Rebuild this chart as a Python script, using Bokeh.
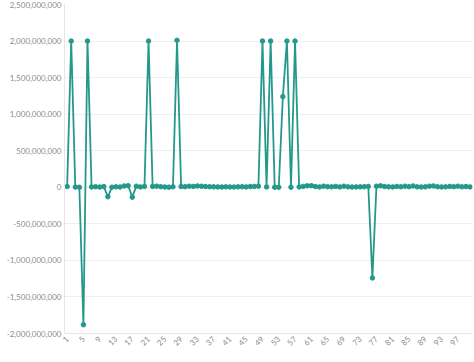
from bokeh.plotting import figure
from bokeh.models import Range1d, FixedTicker, NumeralTickFormatter, ColumnDataSource
from bokeh.embed import file_html
from bokeh.resources import INLINE

x_values = list(range(1, 101))
y_values = [
    10_000_000, 2_000_000_000, 3_000_000, 0, -1_880_000_000,
    2_000_000_000, 5_000_000, 8_000_000, 3_000_000, 10_000_000,
    -130_000_000, 2_000_000, 6_000_000, 4_000_000, 18_000_000,
    22_000_000, -135_000_000, 15_000_000, 5_000_000, 12_000_000,
    2_000_000_000, 12_000_000, 15_000_000, 8_000_000, 4_000_000,
    2_000_000, 6_000_000, 2_010_000_000, 10_000_000, 8_000_000,
    15_000_000, 12_000_000, 18_000_000, 14_000_000, 10_000_000,
    8_000_000, 6_000_000, 5_000_000, 4_000_000, 6_000_000,
    5_000_000, 4_000_000, 6_000_000, 8_000_000, 5_000_000,
    10_000_000, 12_000_000, 15_000_000, 2_000_000_000, 5_000_000,
    2_000_000_000, 0, 0, 1_240_000_000, 2_000_000_000,
    0, 2_000_000_000, 5_000_000, 12_000_000, 20_000_000,
    22_000_000, 10_000_000, 5_000_000, 15_000_000, 8_000_000,
    6_000_000, 12_000_000, 5_000_000, 15_000_000, 6_000_000,
    4_000_000, 5_000_000, 6_000_000, 8_000_000, 12_000_000,
    -1_240_000_000, 15_000_000, 20_000_000, 10_000_000, 6_000_000,
    5_000_000, 12_000_000, 6_000_000, 15_000_000, 8_000_000,
    18_000_000, 6_000_000, 4_000_000, 6_000_000, 15_000_000,
    18_000_000, 8_000_000, 5_000_000, 6_000_000, 12_000_000,
    8_000_000, 15_000_000, 6_000_000, 10_000_000, 5_000_000,
]
x_ticks = list(range(1, 101, 4))
y_ticks = [-2_000_000_000, -1_500_000_000, -1_000_000_000, -500_000_000, 0,
           500_000_000, 1_000_000_000, 1_500_000_000, 2_000_000_000, 2_500_000_000]

color = "#24998b"
label_color = "#8c8c8c"
font = "Lato"

src = ColumnDataSource(dict(x=x_values, y=y_values))

p = figure(width=474, height=362, output_backend="svg", toolbar_location=None,
           x_range=Range1d(0.35, 100.6), y_range=Range1d(-2_000_000_000, 2_500_000_000),
           min_border_left=64, min_border_right=2, min_border_top=4, min_border_bottom=29)
p.outline_line_color = None
p.background_fill_color = "white"
p.border_fill_color = "white"

p.line("x", "y", source=src, line_color=color, line_width=1.8)
p.scatter("x", "y", source=src, size=4.5, fill_color=color, line_color=color)

p.xaxis.ticker = FixedTicker(ticks=x_ticks)
p.yaxis.ticker = FixedTicker(ticks=y_ticks)
p.yaxis.formatter = NumeralTickFormatter(format="0,0")
p.xaxis.major_label_orientation = 0.785398
for ax in (p.xaxis, p.yaxis):
    ax.major_tick_line_color = None
    ax.minor_tick_line_color = None
    ax.major_tick_out = 0
    ax.major_tick_in = 0
    ax.axis_line_color = "#e6e6e6"
    ax.major_label_text_color = label_color
    ax.major_label_text_font = font
    ax.major_label_text_font_size = "8px"
p.yaxis.major_label_standoff = 3
p.xaxis.major_label_standoff = 4
p.xgrid.grid_line_color = None
p.ygrid.grid_line_color = "#efefef"
p.ygrid.grid_line_width = 1

open("out.html", "w").write(file_html(p, INLINE))
